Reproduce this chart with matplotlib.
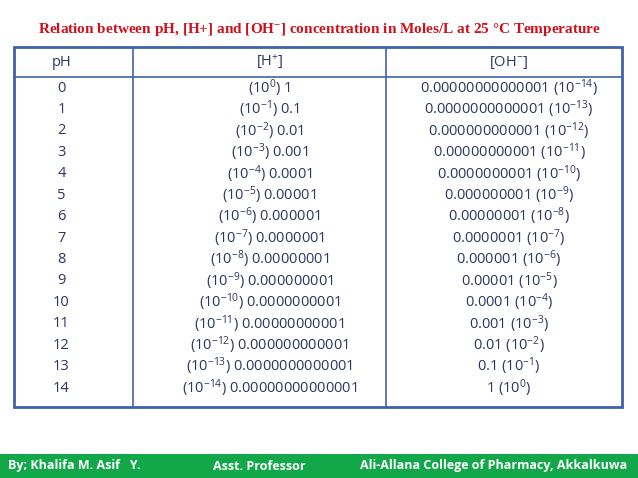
import matplotlib
matplotlib.use("Agg")
import matplotlib.pyplot as plt
from matplotlib.patches import Rectangle

plt.rcParams['font.family'] = ['Open Sans', 'DejaVu Sans']
plt.rcParams['mathtext.default'] = 'regular'

title = "Relation between pH, [H+] and [OH$^{-}$] concentration in Moles/L at 25 °C Temperature"
headers = ["pH", "[H$^{+}$]", "[OH$^{-}$]"]
ph = list(range(15))
h_conc = ["1"] + ["0." + "0" * (k - 1) + "1" for k in range(1, 15)]
oh_conc = list(reversed(h_conc))
footer = ["By; Khalifa M. Asif   Y.", "Asst. Professor", "Ali-Allana College of Pharmacy, Akkalkuwa"]

W, H = 638, 478
fig = plt.figure(figsize=(W / 100, H / 100), dpi=100)
ax = fig.add_axes([0, 0, 1, 1])
ax.set_xlim(0, W); ax.set_ylim(H, 0); ax.axis('off')

ax.text(319, 29, title, color='#d0101a', fontsize=11, fontweight='bold',
        family='Liberation Serif', ha='center', va='center')

blue = '#3f63a8'
txt = '#2b3560'
x0, x1, xa, xb = 14, 622, 133, 386
y0, yh, y1 = 47, 77, 407
ax.add_patch(Rectangle((x0, y0), x1 - x0, y1 - y0, fill=False, ec=blue, lw=2))
ax.plot([x0, x1], [yh, yh], color=blue, lw=1.2)
ax.plot([xa, xa], [y0, y1], color=blue, lw=1.2)
ax.plot([xb, xb], [y0, y1], color=blue, lw=1.2)

cx = [(x0 + xa) / 2 - 12, (xa + xb) / 2 + 10, (xb + x1) / 2 + 5]
for c, hd in zip(cx, headers):
    ax.text(c, 62, hd, color=txt, fontsize=10.5, ha='center', va='center')

step = (388 - 88) / 14
for i in ph:
    y = 88 + i * step
    ax.text(cx[0], y, str(i), color=txt, fontsize=10.5, ha='center', va='center')
    ax.text(cx[1], y, f"(10$^{{{-i if i else 0}}}$) {h_conc[i]}", color=txt, fontsize=10.5,
            ha='center', va='center')
    e = -(14 - i)
    ax.text(cx[2], y, f"{oh_conc[i]} (10$^{{{e if e else 0}}}$)", color=txt, fontsize=10.5,
            ha='center', va='center')

ax.add_patch(Rectangle((0, 454), W, H - 454, color='#12a84a', ec='none'))
for x, t in zip([8, 213, 360], footer):
    ax.text(x, 466, t, color='white', fontsize=9, fontweight='bold', ha='left', va='center')

fig.savefig("out.png", dpi=100)
